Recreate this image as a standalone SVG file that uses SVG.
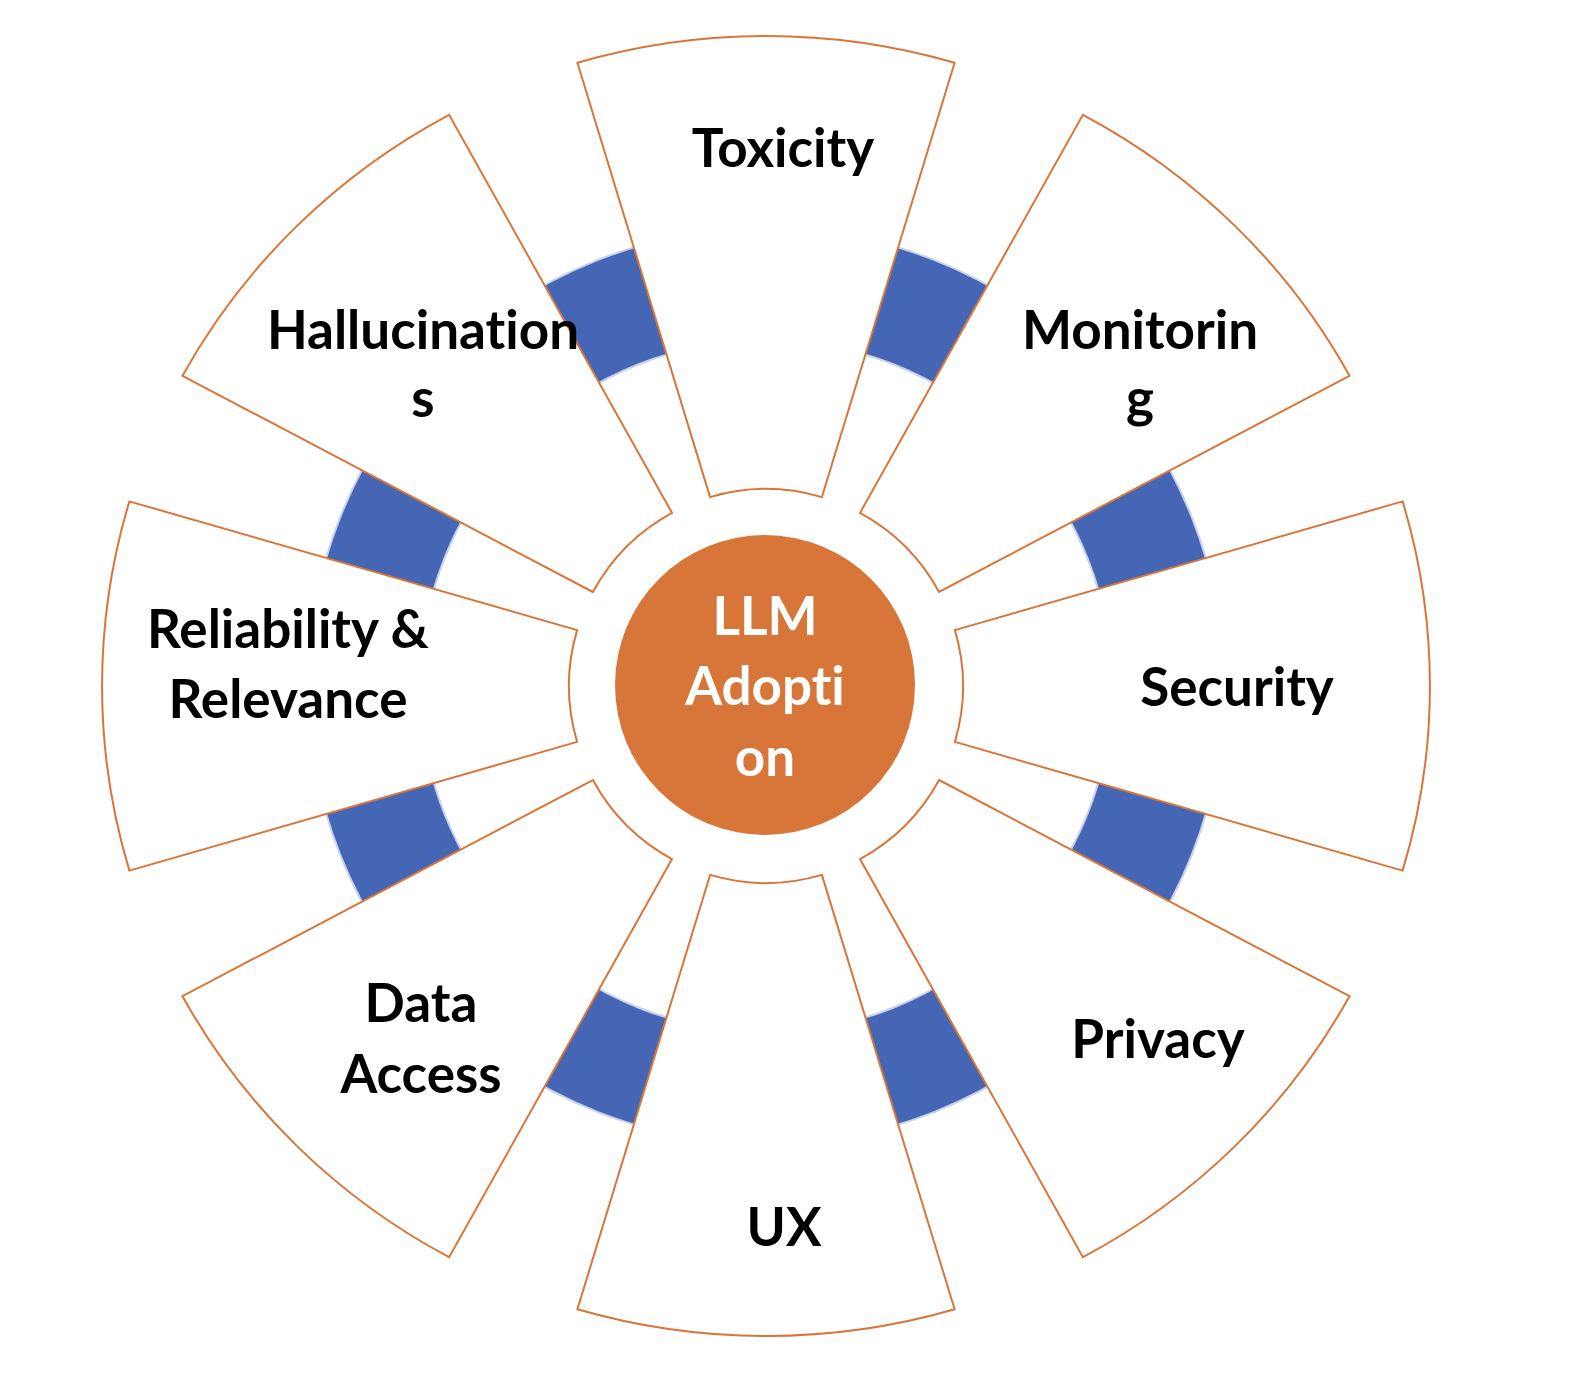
<svg xmlns="http://www.w3.org/2000/svg" width="1584" height="1374" viewBox="0 0 1584 1374">
<style>
.seg{fill:#fff;stroke:#D8763A;stroke-width:2}
.lbl{font-family:Lato,"Liberation Sans",sans-serif;font-weight:bold;font-size:53px;fill:#000;text-anchor:middle;font-variant-ligatures:none}
.ctr{font-family:Lato,"Liberation Sans",sans-serif;font-weight:bold;font-size:53px;fill:#fff;text-anchor:middle;font-variant-ligatures:none}
</style>
<rect width="1584" height="1374" fill="#fff"/>
<g id="ring">
<circle cx="766" cy="686" r="402" fill="none" stroke="#4466B5" stroke-width="112"/>
<circle cx="766" cy="686" r="346" fill="none" stroke="#C5D0EA" stroke-width="2"/>
<circle cx="766" cy="686" r="458" fill="none" stroke="#C5D0EA" stroke-width="2"/>
</g>
<g id="toxicity"><path class="seg" d="M710.1 497.1 L577.4 62.8 A664 650 0 0 1 954.6 62.8 L821.9 497.1 A197 197 0 0 0 710.1 497.1 Z"/><text class="lbl" x="783" y="167">Toxicity</text></g>
<g id="monitoring"><path class="seg" d="M860 512.9 L1082.9 114.8 A664 650 0 0 1 1349.5 375.8 L939.1 592 A197 197 0 0 0 860 512.9 Z"/><text class="lbl" x="1140" y="349">Monitorin</text><text class="lbl" x="1140" y="417">g</text></g>
<g id="security"><path class="seg" d="M954.9 630.1 L1402.6 501.4 A664 650 0 0 1 1402.6 870.6 L954.9 741.9 A197 197 0 0 0 954.9 630.1 Z"/><text class="lbl" x="1237" y="706">Security</text></g>
<g id="privacy"><path class="seg" d="M939.1 780 L1349.5 996.2 A664 650 0 0 1 1082.9 1257.2 L860 859.1 A197 197 0 0 0 939.1 780 Z"/><text class="lbl" x="1158" y="1058">Privacy</text></g>
<g id="ux"><path class="seg" d="M821.9 874.9 L954.6 1309.2 A664 650 0 0 1 577.4 1309.2 L710.1 874.9 A197 197 0 0 0 821.9 874.9 Z"/><text class="lbl" x="784" y="1246">UX</text></g>
<g id="data-access"><path class="seg" d="M672 859.1 L449.1 1257.2 A664 650 0 0 1 182.5 996.2 L592.9 780 A197 197 0 0 0 672 859.1 Z"/><text class="lbl" x="421" y="1022">Data</text><text class="lbl" x="421" y="1093">Access</text></g>
<g id="reliability"><path class="seg" d="M577.1 741.9 L129.4 870.6 A664 650 0 0 1 129.4 501.4 L577.1 630.1 A197 197 0 0 0 577.1 741.9 Z"/><text class="lbl" x="288" y="648">Reliability &amp;</text><text class="lbl" x="288" y="718">Relevance</text></g>
<g id="hallucinations"><path class="seg" d="M592.9 592 L182.5 375.8 A664 650 0 0 1 449.1 114.8 L672 512.9 A197 197 0 0 0 592.9 592 Z"/><text class="lbl" x="423" y="349">Hallucination</text><text class="lbl" x="423" y="417">s</text></g>
<g id="center"><circle cx="765" cy="685" r="150" fill="#D8763A"/><text class="ctr" x="765" y="635">LLM</text><text class="ctr" x="765" y="705">Adopti</text><text class="ctr" x="765" y="776">on</text></g>
</svg>
